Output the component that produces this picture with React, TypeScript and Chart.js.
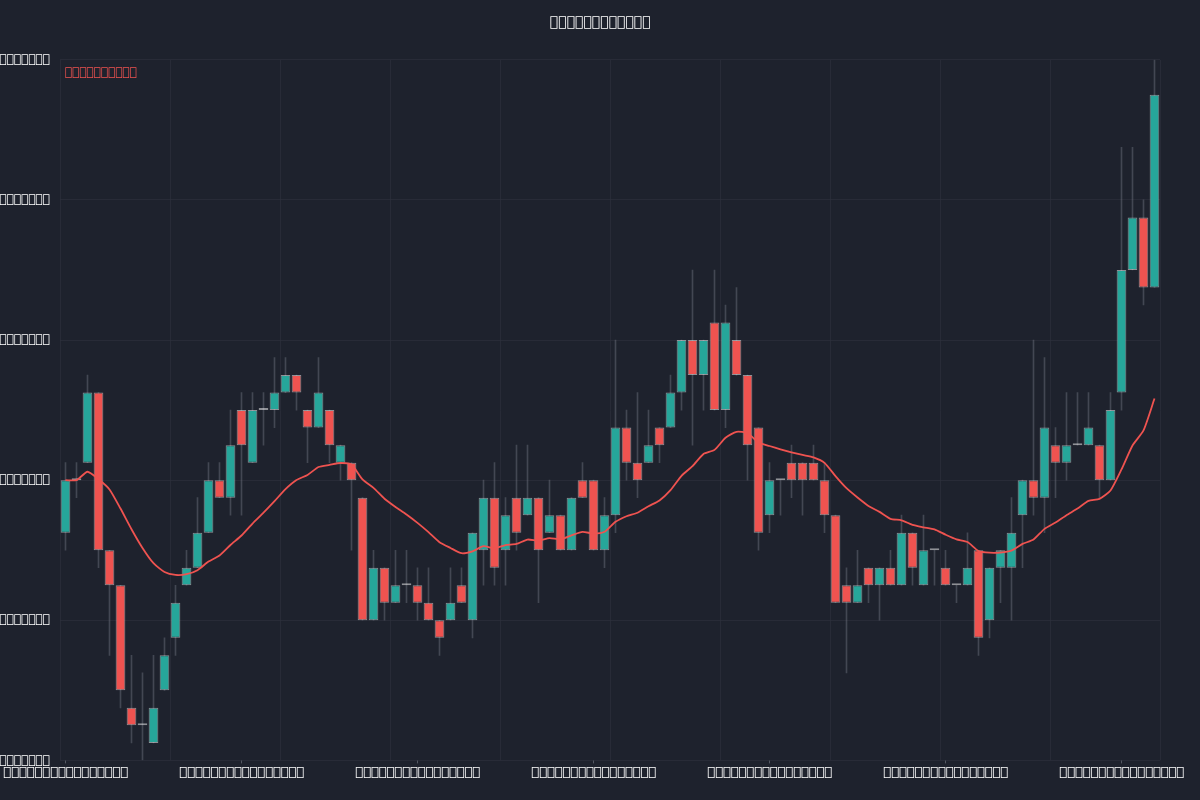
import React, { useEffect, useRef } from 'react';
import { Chart, registerables } from 'chart.js';

Chart.register(...registerables);

// every text of the reference shows as missing-glyph boxes, so we keep them as such
const tofu = (n: number) => '\uE000'.repeat(n);

const titleText = tofu(12);
const emaLabel = tofu(10);
const categories = Array.from({ length: 100 }, () => tofu(16));
const yTickLabels = [tofu(7), tofu(7), tofu(7), tofu(7), tofu(7), tofu(7)];

const opens = [
  13, 16, 17, 21, 12, 10, 3, 2, 1, 4, 7, 10, 11, 13, 16, 15, 20, 17, 20, 20,
  21, 22, 20, 19, 20, 17, 17, 15, 8, 11, 9, 10, 10, 9, 8, 8, 10, 8, 12, 15,
  12, 15, 14, 15, 13, 14, 12, 16, 16, 12, 14, 19, 17, 17, 19, 19, 21, 24, 22, 25,
  20, 24, 22, 19, 14, 16, 17, 17, 17, 16, 14, 10, 9, 11, 10, 11, 10, 13, 10, 12,
  11, 10, 10, 12, 8, 11, 11, 14, 16, 15, 18, 17, 18, 18, 18, 16, 21, 28, 31, 27,
];
const closes = [
  16, 16, 21, 12, 10, 4, 2, 2, 3, 6, 9, 11, 13, 16, 15, 18, 18, 20, 20, 21,
  22, 21, 19, 21, 18, 18, 16, 8, 11, 9, 10, 10, 9, 8, 7, 9, 9, 13, 15, 11,
  14, 13, 15, 12, 14, 12, 15, 15, 12, 14, 19, 17, 16, 18, 18, 21, 24, 22, 24, 20,
  25, 22, 18, 13, 16, 16, 16, 16, 16, 14, 9, 9, 10, 10, 11, 10, 13, 11, 12, 12,
  10, 10, 11, 7, 11, 12, 13, 16, 15, 19, 17, 18, 18, 19, 16, 20, 28, 31, 27, 38,
];
const highs = [
  17, 17, 22, 21, 12, 10, 6, 5, 6, 7, 10, 12, 15, 17, 17, 20, 21, 21, 21, 23,
  23, 22, 20, 23, 20, 18, 17, 15, 12, 11, 12, 12, 11, 11, 8, 11, 11, 13, 16, 17,
  15, 18, 18, 15, 16, 14, 15, 17, 16, 15, 24, 20, 21, 20, 19, 22, 24, 28, 24, 28,
  26, 27, 22, 19, 17, 16, 18, 17, 18, 17, 14, 11, 12, 11, 11, 12, 14, 13, 14, 12,
  12, 10, 13, 12, 11, 12, 15, 16, 24, 23, 19, 21, 21, 21, 18, 21, 35, 35, 32, 40,
];
const lows = [
  12, 15, 17, 11, 6, 3, 1, 0, 1, 4, 6, 10, 11, 13, 15, 14, 14, 17, 18, 19,
  21, 20, 17, 19, 17, 16, 12, 8, 8, 8, 9, 9, 8, 8, 6, 8, 9, 7, 10, 10,
  10, 12, 14, 9, 13, 12, 12, 15, 12, 11, 13, 16, 15, 17, 17, 19, 20, 18, 20, 20,
  19, 22, 16, 12, 13, 14, 15, 14, 16, 13, 9, 5, 9, 9, 8, 10, 10, 10, 10, 10,
  10, 9, 10, 6, 7, 9, 8, 11, 14, 13, 15, 16, 18, 18, 15, 16, 20, 28, 26, 27,
];
const emaValues = [
  16.0, 16.0, 16.48, 16.05, 15.47, 14.38, 13.2, 12.13, 11.26, 10.76,
  10.59, 10.63, 10.86, 11.35, 11.7, 12.3, 12.84, 13.52, 14.14, 14.8,
  15.49, 16.01, 16.3, 16.75, 16.87, 16.98, 16.89, 16.04, 15.56, 14.94,
  14.47, 14.04, 13.56, 13.03, 12.46, 12.13, 11.83, 11.94, 12.23, 12.11,
  12.29, 12.36, 12.61, 12.55, 12.69, 12.62, 12.85, 13.05, 12.95, 13.05,
  13.62, 13.94, 14.14, 14.51, 14.84, 15.43, 16.25, 16.8, 17.49, 17.73,
  18.42, 18.76, 18.69, 18.15, 17.95, 17.76, 17.59, 17.44, 17.3, 16.99,
  16.23, 15.54, 15.01, 14.53, 14.19, 13.79, 13.71, 13.45, 13.31, 13.19,
  12.89, 12.62, 12.47, 11.95, 11.86, 11.87, 11.98, 12.36, 12.61, 13.22,
  13.58, 14.0, 14.38, 14.82, 14.93, 15.41, 16.61, 17.98, 18.84, 20.66,
];

const UP = '#26a69a';
const DOWN = '#ef5350';
const DOJI = '#d1d4dc';
const BG = '#1e222d';
const GRID = 'rgba(46,50,62,0.6)';
const FONT = 'DejaVu Sans';

// legend entry drawn inside the plot, top-left
const innerLegend = {
  id: 'innerLegend',
  afterDraw(chart: Chart) {
    const { ctx, chartArea } = chart;
    ctx.save();
    ctx.font = `12px "${FONT}"`;
    ctx.fillStyle = DOWN;
    ctx.textBaseline = 'middle';
    ctx.fillText(emaLabel, chartArea.left + 5, chartArea.top + 13);
    ctx.restore();
  },
};

const App: React.FC = () => {
  const chartRef = useRef<HTMLCanvasElement>(null);

  useEffect(() => {
    document.body.style.margin = '0';
    document.body.style.background = BG;
    if (!chartRef.current) return;

    const bodyColors = opens.map((o, i) =>
      closes[i] > o ? UP : closes[i] < o ? DOWN : DOJI
    );

    const chart = new Chart(chartRef.current, {
      type: 'bar',
      data: {
        labels: categories,
        datasets: [
          {
            type: 'line',
            label: emaLabel,
            data: emaValues,
            borderColor: DOWN,
            borderWidth: 1.8,
            pointRadius: 0,
            tension: 0.2,
            xAxisID: 'x',
            order: 0,
          },
          {
            type: 'bar',
            label: 'body',
            data: opens.map((o, i) => [o, closes[i]]),
            backgroundColor: bodyColors,
            borderColor: 'rgba(255,255,255,0.5)',
            borderWidth: 1,
            borderSkipped: false,
            minBarLength: 2,
            grouped: false,
            barPercentage: 0.88,
            categoryPercentage: 1,
            xAxisID: 'x',
            order: 1,
          },
          {
            type: 'bar',
            label: 'wick',
            data: lows.map((l, i) => [l, highs[i]]),
            backgroundColor: 'rgba(120,125,135,0.42)',
            barThickness: 1,
            grouped: false,
            xAxisID: 'x',
            order: 2,
          },
        ] as any,
      },
      options: {
        responsive: true,
        maintainAspectRatio: false,
        animation: false,
        layout: { padding: { left: 0, right: 0, top: 0, bottom: 19 } },
        plugins: {
          legend: { display: false },
          tooltip: { enabled: false },
          title: {
            display: true,
            text: titleText,
            color: '#ffffff',
            font: { family: FONT, size: 14, weight: 'normal' },
            padding: { top: 14, bottom: 29 },
          },
        },
        scales: {
          x: {
            type: 'category',
            offset: true,
            grid: {
              drawOnChartArea: false,
              drawTicks: true,
              tickLength: 3,
              offset: false,
              color: 'rgba(120,125,135,0.6)',
            },
            border: { display: false },
            ticks: {
              autoSkip: false,
              maxRotation: 0,
              minRotation: 0,
              color: '#ffffff',
              font: { family: FONT, size: 13 },
              padding: 1,
              callback: (_v: any, i: number) => (i % 16 === 0 ? categories[i] : null),
            },
            // the long labels may run past the plot edges, as in the reference
            afterFit: (scale: any) => {
              scale.paddingLeft = 0;
              scale.paddingRight = 0;
            },
          },
          // grid-only axis: a vertical line every 10 candles
          xg: {
            type: 'linear',
            axis: 'x',
            position: 'top',
            min: 0,
            max: 100,
            offset: false,
            z: 1,
            grid: { color: GRID, drawTicks: false, offset: false },
            border: { display: false },
            ticks: { display: false, stepSize: 10 },
          },
          y: {
            min: 0,
            max: 40,
            z: 1,
            grid: { color: GRID, drawTicks: false },
            border: { display: false },
            ticks: {
              stepSize: 8,
              color: '#ffffff',
              padding: 10,
              font: { family: FONT, size: 12 },
              callback: (_v: any, i: number) => yTickLabels[i],
            },
            afterFit: (scale: any) => {
              scale.width = 60;
            },
          },
          // empty right-hand axis, only reserves the right margin
          yr: {
            type: 'linear',
            axis: 'y',
            position: 'right',
            grid: { display: false },
            border: { display: false },
            ticks: { display: false },
            afterFit: (scale: any) => {
              scale.width = 40;
            },
          },
        },
      },
      plugins: [innerLegend],
    });

    return () => chart.destroy();
  }, []);

  return (
    <div style={{ width: 1200, height: 800, background: BG }}>
      <canvas ref={chartRef} />
    </div>
  );
};

export default App;
